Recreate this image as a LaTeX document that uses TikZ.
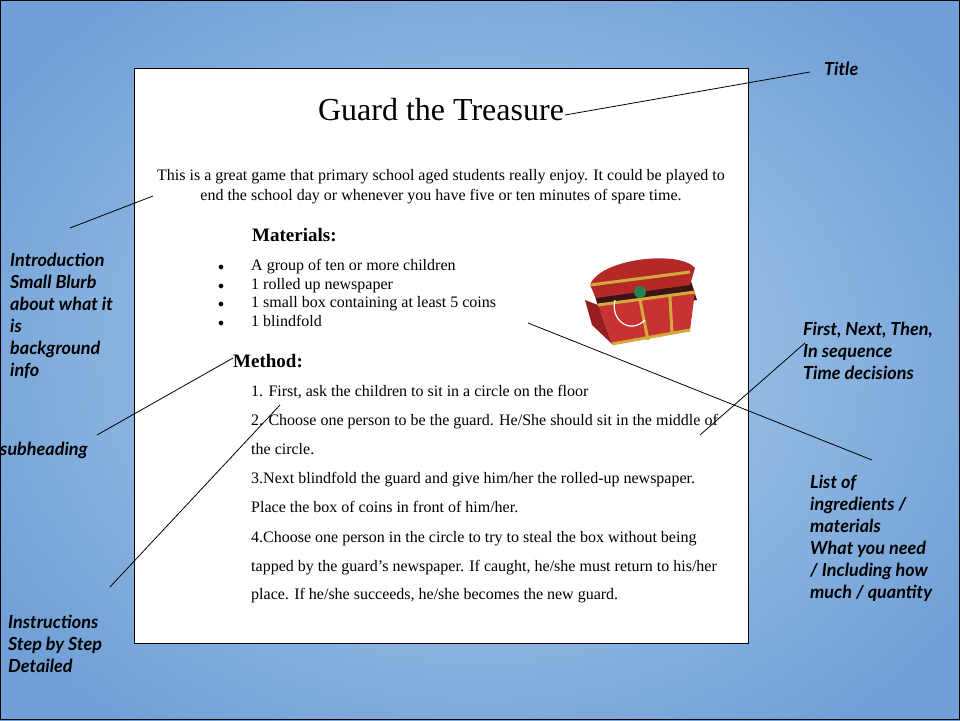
\documentclass[tikz,border=0pt]{standalone}
\usepackage{fontspec}
\setmainfont{Liberation Serif}
\newfontfamily\handf{Lato Bold Italic}
\definecolor{bgin}{RGB}{178,208,238}
\definecolor{bgout}{RGB}{112,160,214}
\definecolor{chdark}{RGB}{60,20,20}
\definecolor{chred}{RGB}{180,40,40}
\definecolor{chred2}{RGB}{200,50,50}
\definecolor{chred3}{RGB}{150,30,30}
\definecolor{chgold}{RGB}{210,170,60}
\definecolor{chgreen}{RGB}{40,130,80}
\begin{document}
\begin{tikzpicture}[x=1pt,y=-1pt,
  doc/.style={anchor=base west,inner sep=0,font=\fontsize{16}{18}\selectfont},
  hand/.style={anchor=north west,inner sep=0,align=left,font=\handf\fontsize{18}{22}\selectfont},
  lead/.style={draw=black,line width=0.8pt}]
\useasboundingbox (0,0) rectangle (960,720);
\begin{scope}
\clip (0,0) rectangle (960,720);
\shade[inner color=bgin,outer color=bgout] (-100,-100) rectangle (1060,820);
\end{scope}
\draw[black,line width=0.8pt] (0.5,0.5) rectangle (959.5,719.5);
\node[draw=black,fill=white,minimum width=614,minimum height=575,anchor=north west,inner sep=0] (page) at (134,68) {};
\node[anchor=base,inner sep=0,font=\fontsize{32}{34}\selectfont] (title) at (441,120) {Guard the Treasure};
\node[anchor=north,inner sep=0,align=center,font=\fontsize{16}{20}\selectfont] (intro) at (441,169) {This is a great game that primary school aged students really enjoy. It could be played to\\end the school day or whenever you have five or ten minutes of spare time.};
\node[doc,font=\bfseries\fontsize{19}{20}\selectfont] (mat) at (252,241) {Materials:};
\foreach \y/\t in {270/A group of ten or more children,289/1 rolled up newspaper,307/1 small box containing at least 5 coins,326/1 blindfold}{
  \node[doc,font=\fontsize{12}{12}\selectfont] at (218,\y) {$\bullet$};
  \node[doc] at (251,\y) {\t};}
\node[doc,font=\bfseries\fontsize{19}{20}\selectfont] (meth) at (233,367) {Method:};
\foreach \y/\t in {396/{1. First, ask the children to sit in a circle on the floor},425/{2. Choose one person to be the guard. He/She should sit in the middle of},454/{the circle.},483/{3.Next blindfold the guard and give him/her the rolled-up newspaper.},512/{Place the box of coins in front of him/her.},542/{4.Choose one person in the circle to try to steal the box without being},571/{tapped by the guard’s newspaper. If caught, he/she must return to his/her},599/{place. If he/she succeeds, he/she becomes the new guard.}}
  \node[doc] at (251,\y) {\t};
% chest
\begin{scope}
\fill[chdark] (593,290) -- (690,278) -- (697,300) -- (600,312) -- cycle;
\fill[chred] (590,285) .. controls (600,258) and (680,250) .. (695,268) -- (690,285) -- (596,298) -- cycle;
\fill[chred2] (598,305) -- (695,292) -- (690,330) -- (612,344) -- cycle;
\fill[chred3] (585,300) -- (598,305) -- (612,344) -- (592,325) -- cycle;
\draw[chgold,line width=3pt] (598,305) -- (695,292) (612,344) -- (690,330) (640,300) -- (648,340) (670,297) -- (672,334) (590,285) -- (690,272);
\fill[chgreen] (640,292) circle (6);
\draw[white,line width=1.2pt] (615,300) .. controls (610,320) and (630,335) .. (645,320);
\end{scope}
% annotations
\node[hand,anchor=base west] (tA) at (824,75) {Title};
\node[hand] (tB) at (10,253) {Introduction\\Small Blurb\\about what it\\is\\background\\info};
\node[hand,anchor=base west] (tC) at (0,455) {subheading};
\node[hand] (tD) at (8,615) {Instructions\\Step by Step\\Detailed};
\node[hand] (tE) at (803,322) {First, Next, Then,\\In sequence\\Time decisions};
\node[hand] (tF) at (810,475) {List of\\ingredients /\\materials\\What you need\\/ Including how\\much / quantity};
\coordinate (a1) at (565,115); \coordinate (a2) at (810,72);
\coordinate (b1) at (70,228); \coordinate (b2) at (153,196);
\coordinate (c1) at (97,435); \coordinate (c2) at (233,358);
\coordinate (d1) at (110,587); \coordinate (d2) at (280,405);
\coordinate (e1) at (700,435); \coordinate (e2) at (805,343);
\coordinate (f1) at (528,323); \coordinate (f2) at (872,460);
\draw[lead] (a1) -- (a2);
\draw[lead] (b1) -- (b2);
\draw[lead] (c1) -- (c2);
\draw[lead] (d1) -- (d2);
\draw[lead] (e1) -- (e2);
\draw[lead] (f1) -- (f2);
\end{tikzpicture}
\end{document}
